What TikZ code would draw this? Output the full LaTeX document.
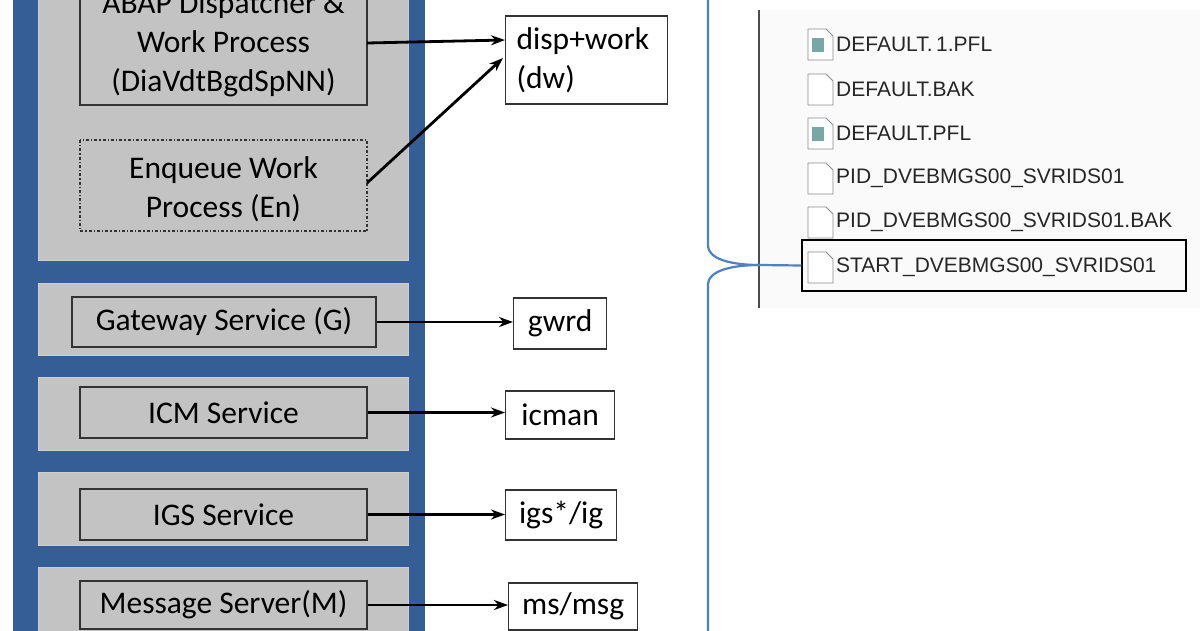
\documentclass[tikz,border=0pt]{standalone}
\usepackage{fontspec}
\setmainfont{Carlito}
\newfontfamily\filefont{Liberation Sans}
\usetikzlibrary{arrows.meta}
\definecolor{panelblue}{HTML}{355E96}
\definecolor{panelgray}{HTML}{C3C3C3}
\definecolor{linkblue}{HTML}{4F81C4}
\begin{document}
\begin{tikzpicture}[x=1pt,y=-1pt,
  panel/.style={fill=panelgray,draw=panelgray!80!white,line width=1pt},
  svc/.style={draw=black!80,fill=panelgray,line width=1.3pt},
  lbl/.style={font=\fontsize{31.5}{39}\selectfont,align=center,text=black},
  outbox/.style={draw=black!80,fill=white,line width=1.3pt,font=\fontsize{31.5}{39}\selectfont,align=left,anchor=west},
  arr/.style={-{Stealth[length=14pt,width=10pt]},line width=2.8pt},
  file/.style={font=\filefont\fontsize{21}{22}\selectfont,anchor=west,inner sep=0pt,text=black!85},
  ico/.style={draw=black!45,fill=white,line width=0.8pt}
]
\useasboundingbox (0,0) rectangle (1200,630);
\fill[white] (0,0) rectangle (1200,630);
% left blue panel
\fill[panelblue] (13,-2) rectangle (425,632);
\draw[panel] (38,-2) rectangle (408,260);
\draw[panel] (38,283) rectangle (408,355);
\draw[panel] (38,377) rectangle (408,450);
\draw[panel] (38,472) rectangle (408,545);
\draw[panel] (38,567) rectangle (408,632);
% service boxes
\draw[svc] (80,-5) rectangle (367,105);
\node[lbl] (abap) at (223.5,44) {ABAP Dispatcher \&\\Work Process\\(DiaVdtBgdSpNN)};
\coordinate (abapE) at (367,43);
\draw[svc,dash dot] (80,140) rectangle (367,231);
\node[lbl] (enq) at (223.5,189) {Enqueue Work\\Process (En)};
\coordinate (enqE) at (367,183);
\node[svc,lbl,minimum width=304pt,minimum height=50pt] (gw) at (224,322) {Gateway Service (G)};
\node[svc,lbl,minimum width=287pt,minimum height=51pt] (icm) at (223.5,412.5) {ICM Service};
\node[svc,lbl,minimum width=287pt,minimum height=51pt] (igs) at (223.5,514.5) {IGS Service};
\node[svc,lbl,minimum width=287pt,minimum height=48pt] (ms) at (223.5,605) {Message Server(M)};
% outputs
\node[outbox,minimum width=162pt,minimum height=88pt,text width=140pt,inner xsep=10pt] (dw) at (505,60) {disp+work\\(dw)};
\node[outbox,minimum width=93pt,minimum height=51pt] (gwrd) at (513,323.5) {gwrd};
\node[outbox,minimum width=109pt,minimum height=48pt] (icman) at (505,415) {icman};
\node[outbox,minimum width=111pt,minimum height=50pt] (ig) at (505,515) {igs*/ig};
\node[outbox,minimum width=129pt,minimum height=47pt] (msg) at (508,606.5) {ms/msg};
% arrows
\draw[arr] (abapE) -- (dw.west |- 0,40);
\draw[arr] (enqE) -- (503,58);
\draw[arr] (gw.east) -- (gwrd.west |- gw.east);
\draw[arr] (icm.east) -- (icman.west |- icm.east);
\draw[arr] (igs.east) -- (ig.west |- igs.east);
\draw[arr] (ms.east) -- (msg.west |- ms.east);
% right screenshot
\fill[black!2] (760,10) rectangle (1200,308);
\draw[black!70,line width=2pt] (759,10) -- (759,308);
\foreach \y/\t/\c in {44/DEFAULT.\,1.PFL/1, 89/DEFAULT.BAK/0, 133/DEFAULT.PFL/1, 178/PID\_DVEBMGS00\_SVRIDS01/0, 222/PID\_DVEBMGS00\_SVRIDS01.BAK/0, 267/START\_DVEBMGS00\_SVRIDS01/0}{
  \draw[ico] (808,\y-15) -- (826,\y-15) -- (833,\y-8) -- (833,\y+16) -- (808,\y+16) -- cycle;
  \ifnum\c=1 \fill[teal!50!gray!70] (812,\y-6) rectangle (824,\y+8); \fi
  \node[file] at (836,\y) {\t};
}
\node[draw=black,line width=1.3pt,minimum width=384pt,minimum height=51pt,inner sep=0pt] (start) at (994,265.5) {};
% bracket
\coordinate (brace) at (760,265);
\draw[linkblue,line width=2.2pt] (708,-2) -- (708,245) .. controls (708,262) and (740,265) .. (brace) -- (start.west);
\draw[linkblue,line width=2.2pt] (brace) .. controls (740,265) and (708,268) .. (708,285) -- (708,632);
\end{tikzpicture}
\end{document}
